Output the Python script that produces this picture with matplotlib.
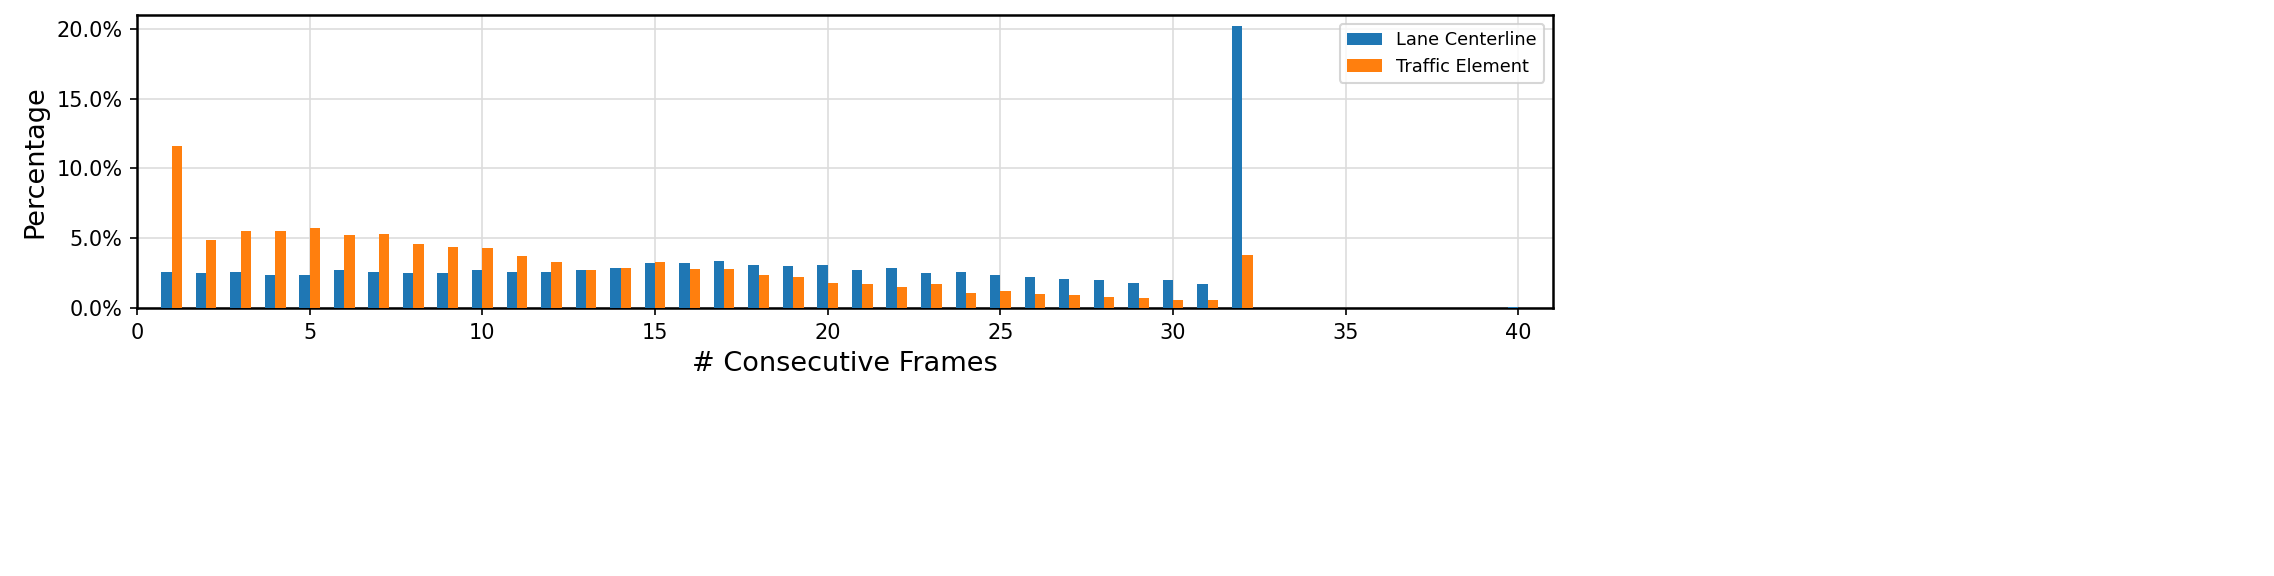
import matplotlib
matplotlib.use("Agg")
import matplotlib.pyplot as plt
import numpy as np
from matplotlib.ticker import FuncFormatter

frames = list(range(1, 41))
lane = [2.6,2.5,2.6,2.4,2.4,2.7,2.6,2.5,2.5,2.7,2.6,2.6,2.7,2.9,3.2,3.2,3.4,3.1,3.0,3.1,
        2.7,2.9,2.5,2.6,2.4,2.2,2.1,2.0,1.8,2.0,1.7,20.2,0,0,0,0,0,0,0,0.1]
traffic = [11.6,4.9,5.5,5.5,5.7,5.2,5.3,4.6,4.4,4.3,3.7,3.3,2.7,2.9,3.3,2.8,2.8,2.4,2.2,1.8,
           1.7,1.5,1.7,1.1,1.2,1.0,0.9,0.8,0.7,0.6,0.6,3.8,0,0,0,0,0,0,0,0]

fig = plt.figure(figsize=(2274/150, 576/150), dpi=150)
ax = fig.add_axes([137/2274, 1-308/576, (1553-137)/2274, (308-15)/576])
x = np.array(frames)
w = 0.3
ax.bar(x - w/2, lane, w, color="#1f77b4", label="Lane Centerline", zorder=3)
ax.bar(x + w/2, traffic, w, color="#ff7f0e", label="Traffic Element", zorder=3)
ax.set_xlim(0, 41)
ax.set_ylim(0, 21)
ax.set_yticks([0, 5, 10, 15, 20])
ax.yaxis.set_major_formatter(FuncFormatter(lambda v, p: f"{v:.1f}%"))
ax.set_xticks(range(0, 41, 5))
ax.grid(True, color="#dddddd", linewidth=0.8, zorder=0)
ax.set_xlabel("# Consecutive Frames", fontsize=13)
ax.set_ylabel("Percentage", fontsize=13)
ax.tick_params(labelsize=10)
for s in ax.spines.values():
    s.set_linewidth(1.2)
ax.legend(loc="upper right", fontsize=8.5)
fig.savefig("out.png", dpi=150)
